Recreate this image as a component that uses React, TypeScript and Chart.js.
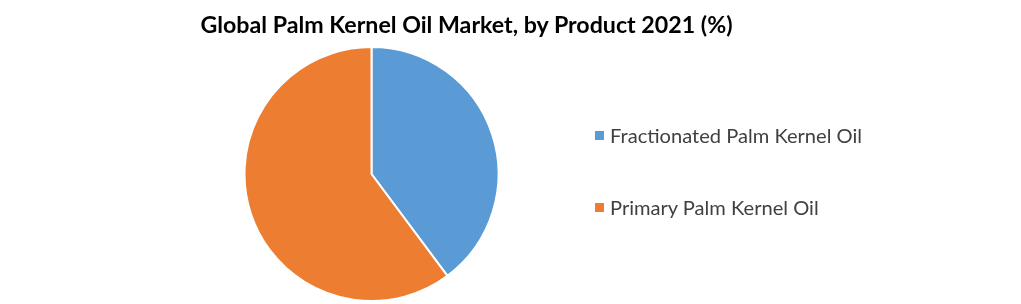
import React, { useEffect, useRef } from "react";
import { Chart, registerables } from "chart.js";

Chart.register(...registerables);

const title = "Global Palm Kernel Oil Market, by Product 2021 (%)";
const categories = ["Fractionated Palm Kernel Oil", "Primary Palm Kernel Oil"];
const shares = [39.8, 60.2];
const colors = ["#5B9BD5", "#ED7D31"];

export default function App() {
  const ref = useRef<HTMLCanvasElement>(null);
  useEffect(() => {
    document.body.style.margin = "0";
    const chart = new Chart(ref.current!, {
      type: "pie",
      data: {
        labels: categories,
        datasets: [
          {
            data: shares,
            backgroundColor: colors,
            borderColor: "#ffffff",
            borderWidth: 2,
          },
        ],
      },
      options: {
        responsive: false,
        animation: false,
        layout: { padding: { left: 243, right: 521, top: 46, bottom: 2 } },
        plugins: {
          legend: { display: false },
          title: { display: false },
          tooltip: { enabled: false },
        },
      },
    });
    return () => chart.destroy();
  }, []);

  return (
    <div style={{ position: "relative", width: 1021, height: 304, background: "#fff", fontFamily: "Lato, 'Open Sans', sans-serif" }}>
      <canvas ref={ref} width={1021} height={304} style={{ position: "absolute", left: 0, top: 0 }} />
      <div
        style={{
          position: "absolute",
          left: 0,
          width: 933,
          top: 8,
          textAlign: "center",
          fontWeight: 700,
          fontSize: 23.2,
          lineHeight: "32px",
          color: "#000",
          whiteSpace: "nowrap",
        }}
      >
        {title}
      </div>
      {categories.map((c, i) => (
        <div
          key={c}
          style={{
            position: "absolute",
            left: 595,
            top: 123 + i * 72,
            height: 24,
            display: "flex",
            alignItems: "center",
            fontSize: 20.1,
            color: "#404040",
            whiteSpace: "nowrap",
          }}
        >
          <span style={{ display: "inline-block", width: 9, height: 9, background: colors[i], marginRight: 6 }} />
          {c}
        </div>
      ))}
    </div>
  );
}
